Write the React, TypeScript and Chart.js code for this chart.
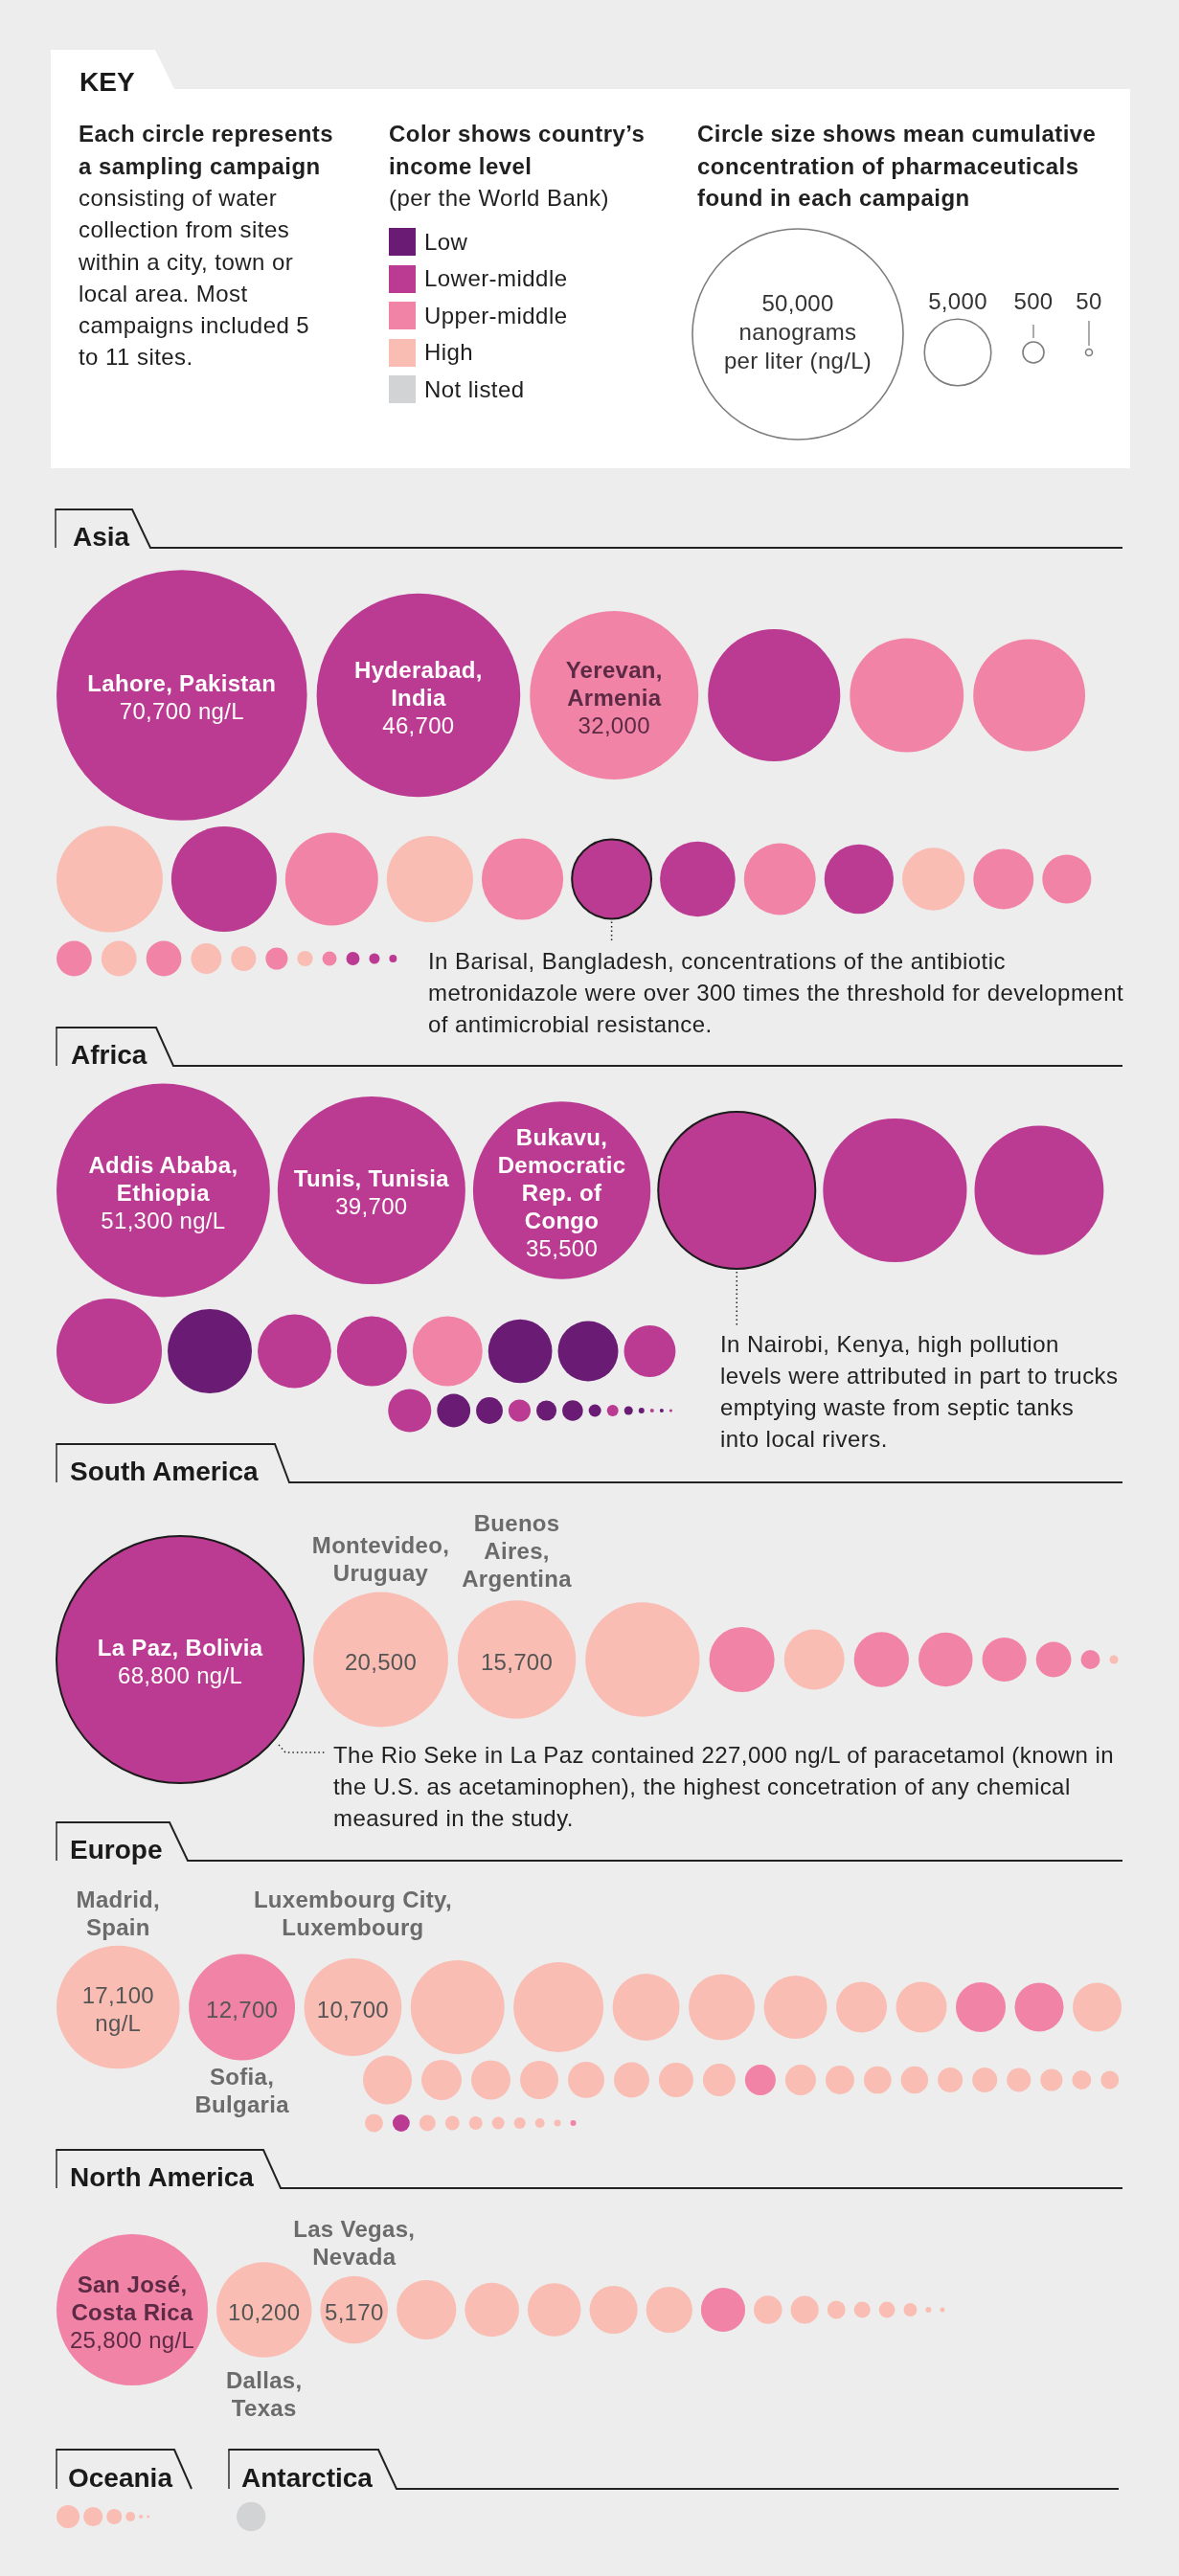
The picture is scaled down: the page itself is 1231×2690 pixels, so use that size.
import React, { useEffect, useRef } from 'react';
import { Chart, registerables } from 'chart.js';

Chart.register(...registerables);

const PAGE_W = 1231;
const PAGE_H = 2690;
const FONT = '"Liberation Sans", Arial, Helvetica, sans-serif';

// ---------- income groups (World Bank) ----------
const incomeLabels = ['Low', 'Lower-middle', 'Upper-middle', 'High', 'Not listed'];
const incomeColors = ['#6a1b74', '#bb3b92', '#f184a6', '#f9bdb3', '#d2d3d5'];

// ---------- size key ----------
const KEY_REF_VALUE = 50000;
const KEY_REF_RADIUS = 110;
const keyValues = [50000, 5000, 500, 50];
const keyLabels = ['50,000', '5,000', '500', '50'];

// ---------- campaign values (ng/L) and income group index ----------
const asiaRow1Values = [70700, 46700, 32000, 19700, 14600, 14100];
const asiaRow1Income = [1, 1, 2, 1, 2, 2];
const asiaRow2Values = [12700, 12500, 9700, 8400, 7500, 7100, 6400, 5800, 5400, 4400, 4100, 2700];
const asiaRow2Income = [3, 1, 2, 3, 2, 1, 1, 2, 1, 3, 2, 2];
const asiaRow3Values = [1400, 1400, 1400, 1050, 700, 550, 270, 230, 200, 125, 65];
const asiaRow3Income = [2, 3, 2, 3, 3, 2, 3, 2, 1, 1, 1];

const africaRow1Values = [51300, 39700, 35500, 27800, 23300, 18800];
const africaRow1Income = [1, 1, 1, 1, 1, 1];
const africaRow2Values = [12500, 8000, 6100, 5500, 5500, 4600, 4100, 3000];
const africaRow2Income = [1, 0, 1, 1, 2, 0, 0, 1];
const africaRow3Values = [2100, 1250, 800, 550, 460, 480, 175, 150, 85, 37, 17, 17, 10];
const africaRow3Income = [1, 0, 0, 1, 0, 0, 0, 1, 0, 0, 1, 0, 1];

const southAmericaValues = [68800, 20500, 15700, 14700, 4800, 4100, 3400, 3300, 2200, 1400, 410, 85];
const southAmericaIncome = [1, 3, 3, 3, 2, 3, 2, 2, 2, 2, 2, 3];

const europeRow1Values = [17100, 12700, 10700, 9900, 9100, 5060, 4920, 4500, 2900, 2900, 2790, 2690, 2690];
const europeRow1Income = [3, 2, 3, 3, 3, 3, 3, 3, 3, 3, 2, 2, 3];
const europeRow2Values = [2690, 1820, 1740, 1650, 1490, 1410, 1340, 1190, 1060, 1060, 930, 850, 840, 700, 700, 650, 550, 410, 370];
const europeRow2Income = [3, 3, 3, 3, 3, 3, 3, 3, 2, 3, 3, 3, 3, 3, 3, 3, 3, 3, 3];
const europeRow3Values = [370, 330, 300, 230, 200, 175, 150, 100, 50, 37];
const europeRow3Income = [3, 1, 3, 3, 3, 3, 3, 3, 3, 2];

const northAmericaValues = [25800, 10200, 5170, 4000, 3300, 3200, 2600, 2400, 2200, 900, 880, 370, 300, 290, 200, 37, 26];
const northAmericaIncome = [2, 3, 3, 3, 3, 3, 3, 3, 2, 3, 3, 3, 3, 3, 3, 3, 3];

const oceaniaValues = [600, 420, 265, 100, 17, 10];
const oceaniaIncome = [3, 3, 3, 3, 3, 3];

const antarcticaValues = [950];
const antarcticaIncome = [4];

// ---------- row layout (positions only) ----------
const rowLayouts = [
  { id: 'asia1', values: asiaRow1Values, income: asiaRow1Income, x0: 59, y: 726, gap: 10 },
  { id: 'asia2', values: asiaRow2Values, income: asiaRow2Income, x0: 59, y: 918, gap: 9, outlined: [5] },
  { id: 'asia3', values: asiaRow3Values, income: asiaRow3Income, x0: 59, y: 1001, gap: 10 },
  { id: 'africa1', values: africaRow1Values, income: africaRow1Income, x0: 59, y: 1243, gap: 8, outlined: [3] },
  { id: 'africa2', values: africaRow2Values, income: africaRow2Income, x0: 59, y: 1411, gap: 6 },
  { id: 'africa3', values: africaRow3Values, income: africaRow3Income, xEnd: 702, y: 1473, gap: 6 },
  { id: 'sa', values: southAmericaValues, income: southAmericaIncome, x0: 59, y: 1733, gap: 10, outlined: [0] },
  { id: 'eu1', values: europeRow1Values, income: europeRow1Income, x0: 59, y: 2096, gap: 9.5 },
  { id: 'eu2', values: europeRow2Values, income: europeRow2Income, x0: 379, y: 2172, gap: 10 },
  { id: 'eu3', values: europeRow3Values, income: europeRow3Income, x0: 381, y: 2217, gap: 10 },
  { id: 'na', values: northAmericaValues, income: northAmericaIncome, x0: 59, y: 2412, gap: 9 },
  { id: 'oc', values: oceaniaValues, income: oceaniaIncome, x0: 59, y: 2628, gap: 4 },
  { id: 'an', values: antarcticaValues, income: antarcticaIncome, x0: 247, y: 2628, gap: 0 },
];

const keyLayout = [
  { x: 833, y: 349 },
  { x: 1000, y: 368 },
  { x: 1079, y: 368 },
  { x: 1137, y: 368 },
];

function radiusOf(v: number) {
  return KEY_REF_RADIUS * Math.sqrt(v / KEY_REF_VALUE);
}

function layoutRow(row: any) {
  const radii = row.values.map(radiusOf);
  const total = radii.reduce((s: number, r: number) => s + 2 * r, 0) + row.gap * (radii.length - 1);
  let x = row.xEnd != null ? row.xEnd - total : row.x0;
  return radii.map((r: number, i: number) => {
    const cx = x + r;
    x += 2 * r + row.gap;
    return {
      x: cx,
      y: row.y,
      r,
      v: row.values[i],
      income: row.income[i],
      outlined: !!(row.outlined && row.outlined.includes(i)),
    };
  });
}

const placed: Record<string, any[]> = {};
rowLayouts.forEach((row) => {
  placed[row.id] = layoutRow(row);
});
const allPoints = rowLayouts.flatMap((row) => placed[row.id]);

const fmt = (v: number) => v.toLocaleString('en-US');

// ---------- labels ----------
const DARK_ON_PINK = '#5c2a45';
const GREY_VALUE = '#555555';
const GREY_LABEL = '#6b6b6b';

const insideLabels = [
  { row: 'asia1', idx: 0, names: ['Lahore, Pakistan'], unit: true, color: '#ffffff' },
  { row: 'asia1', idx: 1, names: ['Hyderabad,', 'India'], unit: false, color: '#ffffff' },
  { row: 'asia1', idx: 2, names: ['Yerevan,', 'Armenia'], unit: false, color: DARK_ON_PINK },
  { row: 'africa1', idx: 0, names: ['Addis Ababa,', 'Ethiopia'], unit: true, color: '#ffffff' },
  { row: 'africa1', idx: 1, names: ['Tunis, Tunisia'], unit: false, color: '#ffffff' },
  { row: 'africa1', idx: 2, names: ['Bukavu,', 'Democratic', 'Rep. of', 'Congo'], unit: false, color: '#ffffff' },
  { row: 'sa', idx: 0, names: ['La Paz, Bolivia'], unit: true, color: '#ffffff' },
  { row: 'sa', idx: 1, names: [], unit: false, color: GREY_VALUE },
  { row: 'sa', idx: 2, names: [], unit: false, color: GREY_VALUE },
  { row: 'eu1', idx: 0, names: [], unit: 'split', color: GREY_VALUE },
  { row: 'eu1', idx: 1, names: [], unit: false, color: GREY_VALUE },
  { row: 'eu1', idx: 2, names: [], unit: false, color: GREY_VALUE },
  { row: 'na', idx: 0, names: ['San José,', 'Costa Rica'], unit: true, color: DARK_ON_PINK },
  { row: 'na', idx: 1, names: [], unit: false, color: GREY_VALUE },
  { row: 'na', idx: 2, names: [], unit: false, color: GREY_VALUE },
];

const outsideLabels = [
  { row: 'sa', idx: 1, lines: ['Montevideo,', 'Uruguay'], firstLineY: 1613 },
  { row: 'sa', idx: 2, lines: ['Buenos', 'Aires,', 'Argentina'], firstLineY: 1590 },
  { row: 'eu1', idx: 0, lines: ['Madrid,', 'Spain'], firstLineY: 1983 },
  { row: 'eu1', idx: 2, lines: ['Luxembourg City,', 'Luxembourg'], firstLineY: 1983 },
  { row: 'eu1', idx: 1, lines: ['Sofia,', 'Bulgaria'], firstLineY: 2168 },
  { row: 'na', idx: 2, lines: ['Las Vegas,', 'Nevada'], firstLineY: 2327 },
  { row: 'na', idx: 1, lines: ['Dallas,', 'Texas'], firstLineY: 2485 },
];

const sections = [
  { name: 'Asia', left: 58, top: 532, bottom: 572, tabRight: 138, slantEnd: 157, lineEnd: 1172, textX: 76 },
  { name: 'Africa', left: 59, top: 1073, bottom: 1113, tabRight: 163, slantEnd: 181, lineEnd: 1172, textX: 74 },
  { name: 'South America', left: 59, top: 1508, bottom: 1548, tabRight: 287, slantEnd: 302, lineEnd: 1172, textX: 73 },
  { name: 'Europe', left: 59, top: 1903, bottom: 1943, tabRight: 177, slantEnd: 196, lineEnd: 1172, textX: 73 },
  { name: 'North America', left: 59, top: 2245, bottom: 2285, tabRight: 275, slantEnd: 293, lineEnd: 1172, textX: 73 },
  { name: 'Oceania', left: 59, top: 2558, bottom: 2599, tabRight: 182, slantEnd: 200, lineEnd: null, textX: 71 },
  { name: 'Antarctica', left: 239, top: 2558, bottom: 2599, tabRight: 395, slantEnd: 414, lineEnd: 1168, textX: 252 },
];

const notes = [
  {
    x: 447,
    firstLineY: 1003,
    lines: [
      'In Barisal, Bangladesh, concentrations of the antibiotic',
      'metronidazole were over 300 times the threshold for development',
      'of antimicrobial resistance.',
    ],
  },
  {
    x: 752,
    firstLineY: 1403,
    lines: [
      'In Nairobi, Kenya, high pollution',
      'levels were attributed in part to trucks',
      'emptying waste from septic tanks',
      'into local rivers.',
    ],
  },
  {
    x: 348,
    firstLineY: 1832,
    lines: [
      'The Rio Seke in La Paz contained 227,000 ng/L of paracetamol (known in',
      'the U.S. as acetaminophen), the highest concetration of any chemical',
      'measured in the study.',
    ],
  },
];

const keyCol1 = [
  { t: 'Each circle represents', b: true },
  { t: 'a sampling campaign', b: true },
  { t: 'consisting of water', b: false },
  { t: 'collection from sites', b: false },
  { t: 'within a city, town or', b: false },
  { t: 'local area. Most', b: false },
  { t: 'campaigns included 5', b: false },
  { t: 'to 11 sites.', b: false },
];
const keyCol2 = [
  { t: 'Color shows country\u2019s', b: true },
  { t: 'income level', b: true },
  { t: '(per the World Bank)', b: false },
];
const keyCol3 = [
  { t: 'Circle size shows mean cumulative', b: true },
  { t: 'concentration of pharmaceuticals', b: true },
  { t: 'found in each campaign', b: true },
];

const BODY_FS = 24;
const BODY_LS = '0.45px';
const BODY_LH = 33.3;

function Abs(props: any) {
  return <div style={{ position: 'absolute', whiteSpace: 'nowrap', ...props.style }}>{props.children}</div>;
}

export default function App() {
  const canvasRef = useRef<HTMLCanvasElement | null>(null);

  useEffect(() => {
    const canvas = canvasRef.current;
    if (!canvas) return;
    const datasets: any[] = incomeLabels.map((label, i) => ({
      label,
      data: allPoints.filter((p) => p.income === i),
      backgroundColor: incomeColors[i],
      borderColor: '#1b1b1b',
      borderWidth: (ctx: any) => (ctx.raw && ctx.raw.outlined ? 2 : 0),
      hoverBorderWidth: 0,
      clip: false,
    }));
    datasets.push({
      label: 'Size key',
      data: keyValues.map((v, i) => ({ x: keyLayout[i].x, y: keyLayout[i].y, r: radiusOf(v) })),
      backgroundColor: 'rgba(0,0,0,0)',
      borderColor: '#7d7d7d',
      borderWidth: 1.6,
      clip: false,
    });
    const chart = new Chart(canvas, {
      type: 'bubble',
      data: { datasets },
      options: {
        responsive: false,
        animation: false,
        devicePixelRatio: 1,
        events: [],
        layout: { padding: 0, autoPadding: false },
        scales: {
          x: { type: 'linear', min: 0, max: PAGE_W, display: false, offset: false },
          y: { type: 'linear', min: 0, max: PAGE_H, reverse: true, display: false, offset: false },
        },
        plugins: { legend: { display: false }, tooltip: { enabled: false } },
      },
    });
    return () => chart.destroy();
  }, []);

  const bodyText = { fontSize: BODY_FS, letterSpacing: BODY_LS, lineHeight: BODY_LH + 'px', color: '#1f1f1f' };

  const barisal = placed.asia2[5];
  const nairobi = placed.africa1[3];

  return (
    <div
      style={{
        position: 'relative',
        width: PAGE_W,
        height: PAGE_H,
        background: '#ededed',
        overflow: 'hidden',
        fontFamily: FONT,
      }}
    >
      <style>{'html,body{margin:0;padding:0;background:#ededed;overflow:hidden;}'}</style>

      <svg width={PAGE_W} height={PAGE_H} style={{ position: 'absolute', left: 0, top: 0 }}>
        <polygon points="53,52 162,52 182,93 1180,93 1180,489 53,489" fill="#ffffff" />
        {sections.map((s) => (
          <g key={s.name}>
            <line x1={s.left} y1={s.top} x2={s.left} y2={s.bottom} stroke="#222" strokeWidth={1.4} />
            <polyline
              points={`${s.left - 0.7},${s.top} ${s.tabRight},${s.top} ${s.slantEnd},${s.bottom} ${s.lineEnd != null ? s.lineEnd : s.slantEnd},${s.bottom}`}
              fill="none"
              stroke="#222"
              strokeWidth={2}
            />
          </g>
        ))}
        <line x1={barisal.x} y1={barisal.y + barisal.r + 3} x2={barisal.x} y2={985} stroke="#222" strokeWidth={1.5} strokeDasharray="1.5 3" />
        <line x1={nairobi.x} y1={nairobi.y + nairobi.r + 3} x2={nairobi.x} y2={1384} stroke="#222" strokeWidth={1.5} strokeDasharray="1.5 3" />
        <polyline points="291,1822 298,1830 340,1830" fill="none" stroke="#222" strokeWidth={1.5} strokeDasharray="1.5 3" />
        <line x1={1079} y1={339} x2={1079} y2={353} stroke="#7d7d7d" strokeWidth={1.3} />
        <line x1={1137} y1={335} x2={1137} y2={361} stroke="#7d7d7d" strokeWidth={1.3} />
      </svg>

      <canvas
        ref={canvasRef}
        width={PAGE_W}
        height={PAGE_H}
        style={{ position: 'absolute', left: 0, top: 0, width: PAGE_W, height: PAGE_H }}
      />

      {/* KEY */}
      <Abs style={{ left: 83, top: 72, fontSize: 28, fontWeight: 'bold', lineHeight: '28px', color: '#1a1a1a' }}>KEY</Abs>
      <Abs style={{ left: 82, top: 140 - BODY_LH / 2, ...bodyText }}>
        {keyCol1.map((l, i) => (
          <div key={i} style={{ fontWeight: l.b ? 'bold' : 'normal' }}>{l.t}</div>
        ))}
      </Abs>
      <Abs style={{ left: 406, top: 140 - BODY_LH / 2, ...bodyText }}>
        {keyCol2.map((l, i) => (
          <div key={i} style={{ fontWeight: l.b ? 'bold' : 'normal' }}>{l.t}</div>
        ))}
      </Abs>
      <Abs style={{ left: 728, top: 140 - BODY_LH / 2, ...bodyText }}>
        {keyCol3.map((l, i) => (
          <div key={i} style={{ fontWeight: l.b ? 'bold' : 'normal' }}>{l.t}</div>
        ))}
      </Abs>
      {incomeLabels.map((lab, i) => (
        <React.Fragment key={lab}>
          <div
            style={{
              position: 'absolute',
              left: 406,
              top: 238 + i * 38.5,
              width: 28,
              height: 29,
              background: incomeColors[i],
            }}
          />
          <Abs style={{ left: 443, top: 238 + i * 38.5 + 14.5 - 15, lineHeight: '30px', fontSize: BODY_FS, letterSpacing: BODY_LS, color: '#1f1f1f' }}>
            {lab}
          </Abs>
        </React.Fragment>
      ))}
      <Abs style={{ left: 833, top: 302, transform: 'translateX(-50%)', textAlign: 'center', fontSize: BODY_FS, letterSpacing: '0.3px', lineHeight: '30px', color: '#333' }}>
        <div>{keyLabels[0]}</div>
        <div>nanograms</div>
        <div>per liter (ng/L)</div>
      </Abs>
      {keyLabels.slice(1).map((lab, i) => (
        <Abs
          key={lab}
          style={{ left: keyLayout[i + 1].x, top: 300, transform: 'translateX(-50%)', fontSize: BODY_FS, letterSpacing: '0.3px', lineHeight: '30px', color: '#333' }}
        >
          {lab}
        </Abs>
      ))}

      {/* section headers */}
      {sections.map((s) => (
        <Abs key={s.name} style={{ left: s.textX, top: s.bottom - 24.7, fontSize: 28, fontWeight: 'bold', lineHeight: '28px', color: '#1a1a1a' }}>
          {s.name}
        </Abs>
      ))}

      {/* labels inside circles */}
      {insideLabels.map((l, i) => {
        const p = placed[l.row][l.idx];
        const valueLines = l.unit === 'split' ? [fmt(p.v), 'ng/L'] : [l.unit ? `${fmt(p.v)} ng/L` : fmt(p.v)];
        return (
          <Abs
            key={i}
            style={{
              left: p.x,
              top: p.y + 2,
              transform: 'translate(-50%, -50%)',
              textAlign: 'center',
              color: l.color,
              fontSize: 24,
              letterSpacing: '0.3px',
              lineHeight: '29px',
            }}
          >
            {l.names.map((n, j) => (
              <div key={j} style={{ fontWeight: 'bold' }}>{n}</div>
            ))}
            {valueLines.map((n, j) => (
              <div key={'v' + j}>{n}</div>
            ))}
          </Abs>
        );
      })}

      {/* labels outside circles */}
      {outsideLabels.map((l, i) => {
        const p = placed[l.row][l.idx];
        return (
          <Abs
            key={i}
            style={{
              left: p.x,
              top: l.firstLineY - 14.5,
              transform: 'translateX(-50%)',
              textAlign: 'center',
              color: GREY_LABEL,
              fontSize: 24,
              fontWeight: 'bold',
              letterSpacing: '0.3px',
              lineHeight: '29px',
            }}
          >
            {l.lines.map((n, j) => (
              <div key={j}>{n}</div>
            ))}
          </Abs>
        );
      })}

      {/* notes */}
      {notes.map((n, i) => (
        <Abs key={i} style={{ left: n.x, top: n.firstLineY - 16.5, fontSize: BODY_FS, letterSpacing: BODY_LS, lineHeight: '33px', color: '#222' }}>
          {n.lines.map((t, j) => (
            <div key={j}>{t}</div>
          ))}
        </Abs>
      ))}
    </div>
  );
}
